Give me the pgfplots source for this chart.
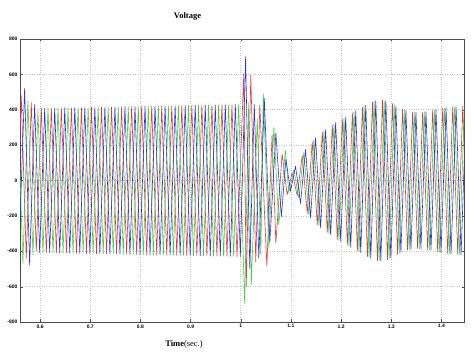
\documentclass[border=0pt]{standalone}
\usepackage{pgfplots}
\pgfplotsset{compat=1.18}
\usepackage{fontspec}
\setmainfont{Liberation Serif}
\newfontfamily\ticksf{Liberation Sans}
\definecolor{pr}{RGB}{225,60,60}
\definecolor{pg}{RGB}{60,215,60}
\definecolor{pb}{RGB}{50,50,225}
\begin{document}
\begin{tikzpicture}
\begin{axis}[
  name=main,
  scale only axis, width=444pt, height=283pt,
  xmin=0.56, xmax=1.445, ymin=-800, ymax=800,
  xtick={0.6,0.7,0.8,0.9,1,1.1,1.2,1.3,1.4},
  xticklabels={0.6,0.7,0.8,0.9,1,1.1,1.2,1.3,1.4},
  ytick={-800,-600,-400,-200,0,200,400,600,800},
  yticklabels={-800,-600,-400,-200,0,200,400,600,800},
  grid=major, grid style={dotted, gray!45, line width=0.5pt},
  tick align=inside, major tick length=2.5pt,
  tick style={gray!60!black},
  axis line style={gray!60!black, line width=0.6pt},
  tick label style={font=\ticksf\fontsize{5}{6}\selectfont\bfseries},
  xticklabel style={yshift=1pt},
  yticklabel style={xshift=1pt},
  clip=true,
  every axis plot/.append style={line width=0.6pt, line join=round, no markers},
]
\addplot[pr] coordinates {
(0.5525,-400)(0.5625,480)(0.5725,-440)(0.5825,440)(0.5925,-400)
(0.6025,408)(0.6125,-409)(0.6225,409)(0.6325,-410)(0.6425,410)(0.6525,-411)(0.6625,411)(0.6725,-412)(0.6825,412)(0.6925,-413)
(0.7025,414)(0.7125,-414)(0.7225,415)(0.7325,-415)(0.7425,416)(0.7525,-416)(0.7625,417)(0.7725,-417)(0.7825,418)(0.7925,-418)
(0.8025,419)(0.8125,-420)(0.8225,420)(0.8325,-421)(0.8425,421)(0.8525,-422)(0.8625,422)(0.8725,-423)(0.8825,423)(0.8925,-424)
(0.9025,425)(0.9125,-425)(0.9225,426)(0.9325,-426)(0.9425,427)(0.9525,-427)(0.9625,428)(0.9725,-428)(0.9825,429)(0.9925,-430)
(1.0060,605)(1.0110,-600)(1.0200,595)(1.0300,-460)(1.0380,427)(1.0520,-483)(1.0625,260)(1.0700,-355)(1.0825,150)(1.0925,-80)
(1.1025,45)(1.1125,-85)(1.1225,140)(1.1325,-185)(1.1425,220)(1.1525,-250)(1.1625,275)(1.1725,-293)(1.1825,313)(1.1925,-333)
(1.2025,348)(1.2125,-363)(1.2225,383)(1.2325,-398)(1.2425,414)(1.2525,-431)(1.2625,444)(1.2725,-453)(1.2825,455)(1.2925,-448)
(1.3025,434)(1.3125,-417)(1.3225,403)(1.3325,-394)(1.3425,387)(1.3525,-385)(1.3625,386)(1.3725,-391)(1.3825,397)(1.3925,-403)
(1.4025,409)(1.4125,-413)(1.4225,416)(1.4325,-418)(1.4425,420)(1.4525,-421)
};
\addplot[pg] coordinates {
(0.5558,400)(0.5658,-470)(0.5758,450)(0.5858,-420)(0.5958,395)
(0.6058,-408)(0.6158,409)(0.6258,-409)(0.6358,410)(0.6458,-410)(0.6558,411)(0.6658,-411)(0.6758,412)(0.6858,-412)(0.6958,413)
(0.7058,-414)(0.7158,414)(0.7258,-415)(0.7358,415)(0.7458,-416)(0.7558,416)(0.7658,-417)(0.7758,417)(0.7858,-418)(0.7958,418)
(0.8058,-419)(0.8158,420)(0.8258,-420)(0.8358,421)(0.8458,-421)(0.8558,422)(0.8658,-422)(0.8758,423)(0.8858,-423)(0.8958,424)
(0.9058,-425)(0.9158,425)(0.9258,-426)(0.9358,426)(0.9458,-427)(0.9558,427)(0.9658,-428)(0.9758,428)(0.9858,-429)(0.9958,430)
(1.0078,-695)(1.0158,440)(1.0210,-590)(1.0330,350)(1.0400,-420)(1.0450,490)(1.0560,-380)(1.0660,304)(1.0758,-250)(1.0890,172)
(1.0958,-70)(1.1058,60)(1.1158,-100)(1.1258,160)(1.1358,-195)(1.1458,230)(1.1558,-255)(1.1658,280)(1.1758,-300)(1.1858,318)
(1.1958,-338)(1.2058,350)(1.2158,-370)(1.2258,388)(1.2358,-403)(1.2458,420)(1.2558,-435)(1.2658,447)(1.2758,-454)(1.2858,453)
(1.2958,-444)(1.3058,430)(1.3158,-412)(1.3258,400)(1.3358,-391)(1.3458,386)(1.3558,-385)(1.3658,388)(1.3758,-393)(1.3858,399)
(1.3958,-406)(1.4058,410)(1.4158,-414)(1.4258,417)(1.4358,-419)(1.4458,420)(1.4558,-421)
};
\addplot[pb] coordinates {
(0.5592,-300)(0.5692,520)(0.5792,-480)(0.5892,430)(0.5992,-408)
(0.6092,408)(0.6192,-409)(0.6292,410)(0.6392,-410)(0.6492,411)(0.6592,-411)(0.6692,412)(0.6792,-412)(0.6892,413)(0.6992,-413)
(0.7092,414)(0.7192,-415)(0.7292,415)(0.7392,-416)(0.7492,416)(0.7592,-417)(0.7692,417)(0.7792,-418)(0.7892,418)(0.7992,-419)
(0.8092,420)(0.8192,-420)(0.8292,421)(0.8392,-421)(0.8492,422)(0.8592,-422)(0.8692,423)(0.8792,-423)(0.8892,424)(0.8992,-424)
(0.9092,425)(0.9192,-426)(0.9292,426)(0.9392,-427)(0.9492,427)(0.9592,-428)(0.9692,428)(0.9792,-429)(0.9892,429)(0.9992,-430)
(1.0097,700)(1.0180,-496)(1.0270,430)(1.0360,-440)(1.0470,464)(1.0580,-350)(1.0700,270)(1.0810,-205)(1.0900,120)(1.0992,-60)
(1.1092,80)(1.1192,-130)(1.1292,175)(1.1392,-212)(1.1492,242)(1.1592,-268)(1.1692,288)(1.1792,-308)(1.1892,328)(1.1992,-343)
(1.2092,358)(1.2192,-378)(1.2292,393)(1.2392,-408)(1.2492,426)(1.2592,-440)(1.2692,451)(1.2792,-455)(1.2892,451)(1.2992,-439)
(1.3092,422)(1.3192,-407)(1.3292,397)(1.3392,-389)(1.3492,385)(1.3592,-385)(1.3692,389)(1.3792,-394)(1.3892,401)(1.3992,-407)
(1.4092,411)(1.4192,-415)(1.4292,417)(1.4392,-419)(1.4492,420)
};
\coordinate (O) at (rel axis cs:0,0);
\end{axis}
\path (O) ++(-20pt,-33pt) rectangle ++(474pt,355pt);
\node[font=\bfseries\fontsize{8.5}{10}\selectfont] at ([xshift=167.5pt,yshift=306pt]O) {Voltage};
\node[font=\fontsize{8.5}{10}\selectfont] at ([xshift=164pt,yshift=-22pt]O) {\textbf{Time}(sec.)};
\end{tikzpicture}
\end{document}
